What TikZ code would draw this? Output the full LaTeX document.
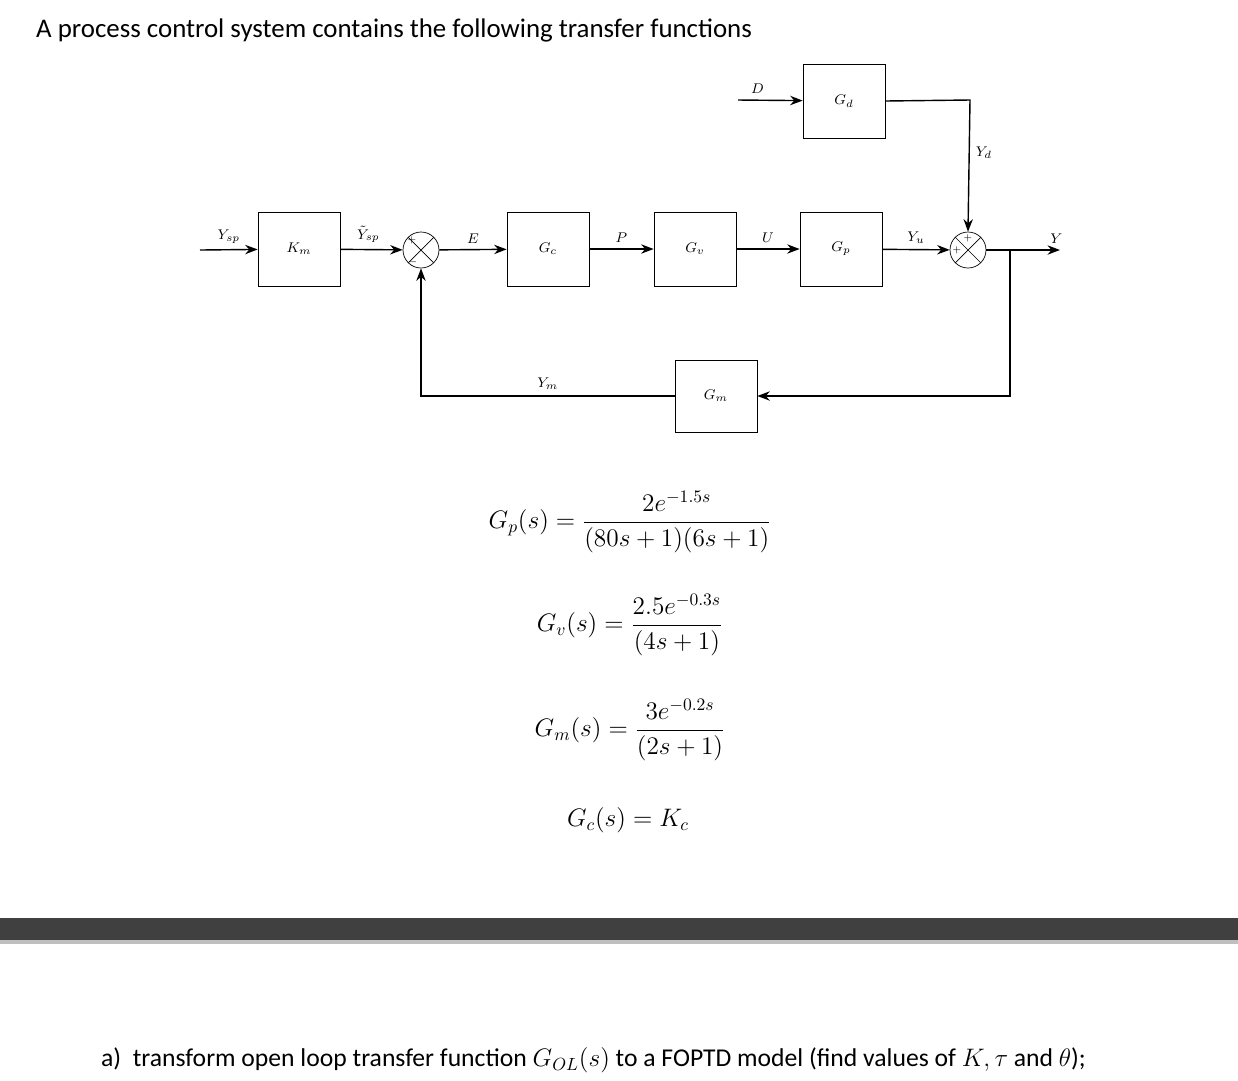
\documentclass[tikz,border=0pt]{standalone}
\usepackage{fontspec}
\setmainfont{Carlito}
\usepackage{amsmath}
\usetikzlibrary{arrows.meta}
\begin{document}
\begin{tikzpicture}[x=0.02cm,y=-0.02cm,
  blk/.style={draw,minimum width=1.64cm,minimum height=1.48cm,inner sep=0pt,font=\footnotesize},
  sumj/.style={draw,circle,minimum size=0.72cm,inner sep=0pt,path picture={\draw (path picture bounding box.north west)--(path picture bounding box.south east) (path picture bounding box.north east)--(path picture bounding box.south west);}},
  sig/.style={-{Stealth[length=2.5mm]},thick},
  lbl/.style={font=\footnotesize}]
\useasboundingbox (0,0) rectangle (1238,1080);
\node[anchor=west,font=\fontsize{15.3}{17}\selectfont] (title) at (30,30) {A process control system contains the following transfer functions};
\node[blk] (km) at (299,249) {$K_m$};
\node[sumj] (s1) at (421,250) {};
\node[blk] (gc) at (548,249) {$G_c$};
\node[blk] (gv) at (695,249) {$G_v$};
\node[blk] (gp) at (841,249) {$G_p$};
\node[blk] (gd) at (844,101) {$G_d$};
\node[sumj] (s2) at (968,250) {};
\node[blk,minimum height=1.44cm] (gm) at (716,396) {$G_m$};
\coordinate (in) at (200,250);
\coordinate (din) at (738,100);
\coordinate (out) at (1060,250);
\coordinate (br) at (1010,250);
\draw[sig] (in) -- node[lbl,above]{$Y_{sp}$} (km);
\draw[sig] (km) -- node[lbl,above,pos=0.45]{$\tilde{Y}_{sp}$} (s1);
\draw[sig] (s1) -- node[lbl,above]{$E$} (gc);
\draw[sig] (gc) -- node[lbl,above]{$P$} (gv);
\draw[sig] (gv) -- node[lbl,above]{$U$} (gp);
\draw[sig] (gp) -- node[lbl,above]{$Y_u$} (s2);
\draw[sig] (din) -- node[lbl,above,pos=0.3]{$D$} (gd);
\draw[sig] (gd.east) -- (970,100) -- node[lbl,right,pos=0.4]{$Y_d$} (s2.north);
\draw[sig] (s2) -- (out) node[lbl,above,pos=0.95]{$Y$};
\draw[sig] (br) |- (gm.east);
\draw[sig] (gm.west) -| node[lbl,above,pos=0.25]{$Y_m$} (s1.south);
\node[font=\tiny] at (412,240) {$+$};
\node[font=\tiny] at (413,262) {$-$};
\node[font=\tiny] at (968,238) {$+$};
\node[font=\tiny] at (957,250) {$+$};
\node (e1) at (630,522) {\Large $G_p(s)=\dfrac{2e^{-1.5s}}{(80s+1)(6s+1)}$};
\node (e2) at (630,625) {\Large $G_v(s)=\dfrac{2.5e^{-0.3s}}{(4s+1)}$};
\node (e3) at (630,730) {\Large $G_m(s)=\dfrac{3e^{-0.2s}}{(2s+1)}$};
\node (e4) at (628,820) {\Large $G_c(s)=K_c$};
\fill[black!75] (0,918) rectangle (1238,940);
\fill[black!25] (0,940) rectangle (1238,944);
\node[anchor=west,font=\fontsize{14.6}{16}\selectfont] (qa) at (95,1060) {a)\ \ transform open loop transfer function $G_{OL}(s)$ to a FOPTD model (find values of $K,\tau$ and $\theta$);};
\end{tikzpicture}
\end{document}
